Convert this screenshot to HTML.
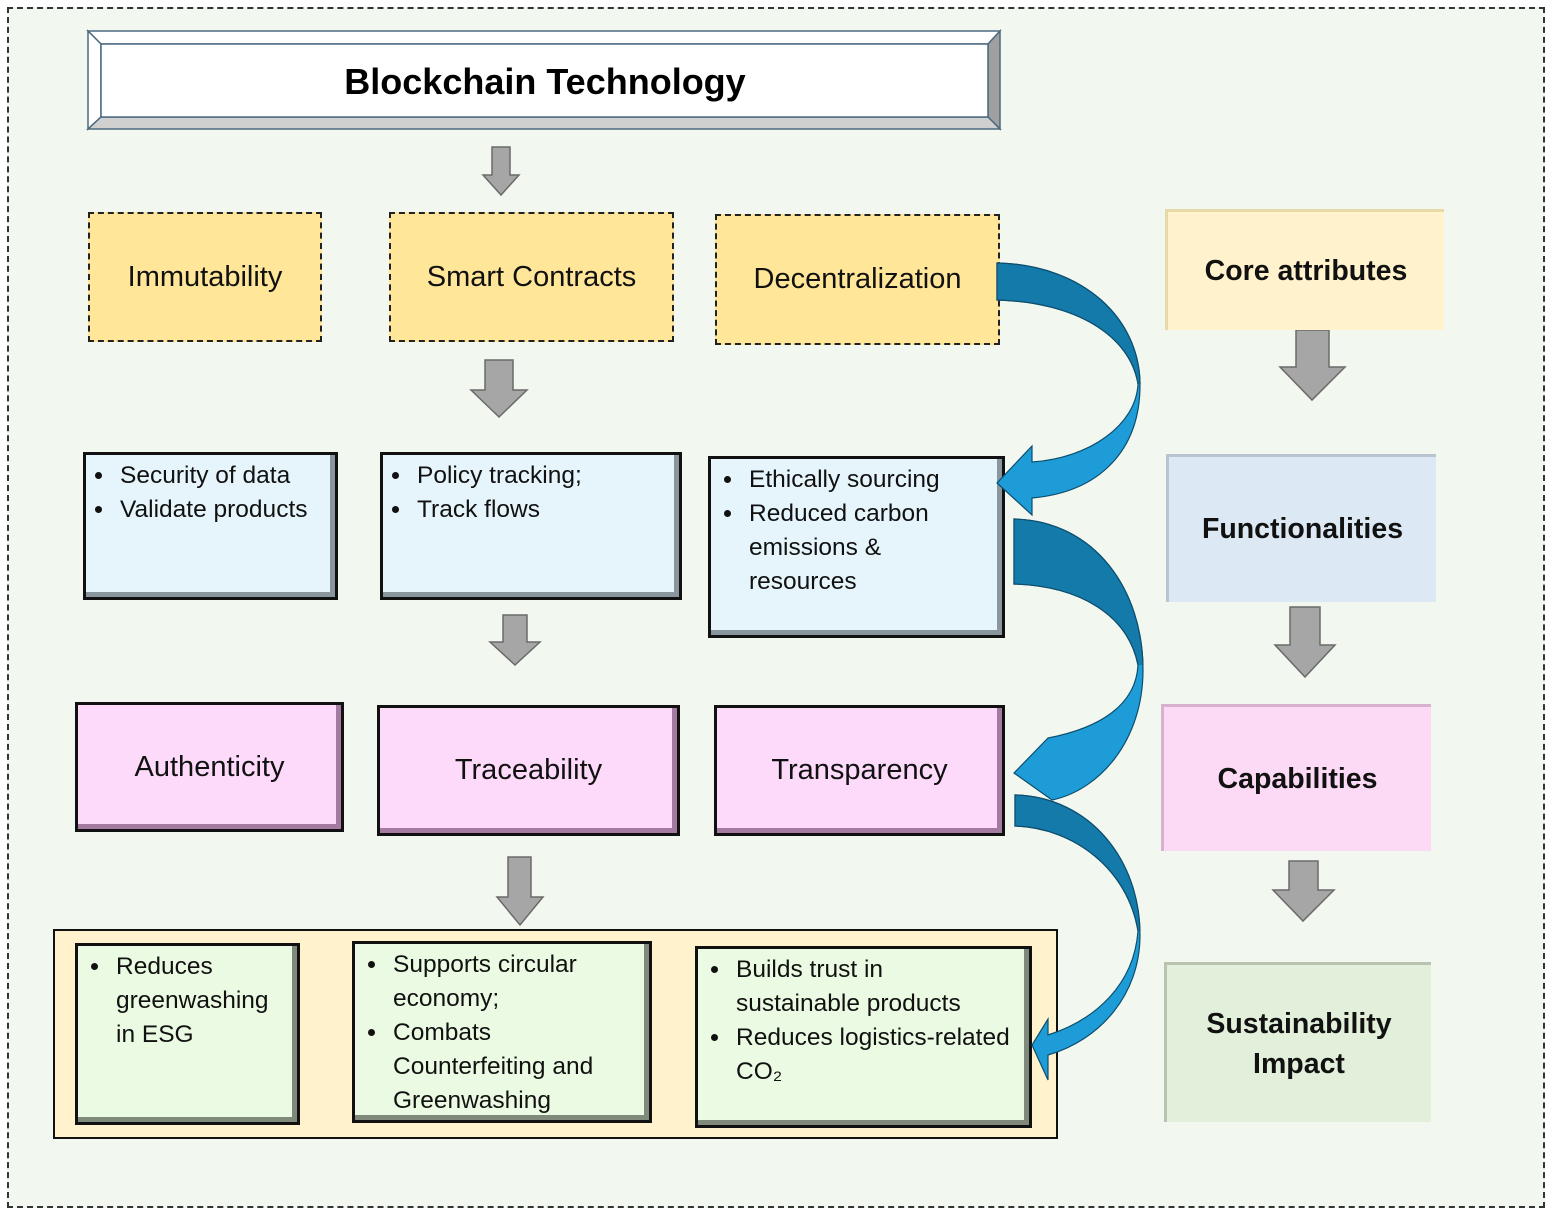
<!DOCTYPE html>
<html><head><meta charset="utf-8"><style>
body{margin:0;width:1555px;height:1218px;background:#fff;position:relative;overflow:hidden;font-family:"Liberation Sans",Carlito,sans-serif;color:#111}
.frame{position:absolute;left:7px;top:7px;width:1538px;height:1201px;border:2px dashed #333;background:#f2f8f0;box-sizing:border-box}
.b{position:absolute;box-sizing:border-box;display:flex;align-items:center;justify-content:center;text-align:center}
.y{background:#ffe699;border:2px dashed #222;font-size:29px}
.bl{background:#e6f5fc;border:3px solid #111;box-shadow:inset -5px -5px 0 #8a969e;align-items:flex-start;justify-content:flex-start}
.pk{background:#fdd9fa;border:3px solid #111;box-shadow:inset -5px -5px 0 #a57aa0;font-size:29px}
.gr{background:#ebfae2;border:3px solid #111;box-shadow:inset -5px -5px 0 #808a7c;align-items:flex-start;justify-content:flex-start}
ul{margin:0;padding:0 0 0 34px;font-size:24.5px;line-height:34px;text-align:left;white-space:nowrap}
li{padding-left:4px}
.r{font-weight:bold;font-size:28.5px}
</style></head><body>
<div class="frame"></div>
<svg style="position:absolute;left:0;top:0" width="1555" height="1218">
<polygon points="88,31 1000,31 988,44 101,44" fill="#fff" stroke="#4a6a80" stroke-width="1.5"/>
<polygon points="88,31 101,44 101,117 88,129" fill="#fff" stroke="#4a6a80" stroke-width="1.5"/>
<polygon points="1000,31 1000,129 988,117 988,44" fill="#a0a0a0" stroke="#4a6a80" stroke-width="1.5"/>
<polygon points="88,129 101,117 988,117 1000,129" fill="#d0d0d0" stroke="#4a6a80" stroke-width="1.5"/>
<rect x="101" y="44" width="887" height="73" fill="#fff" stroke="#4a6a80" stroke-width="1.5"/>
<text x="545" y="94" text-anchor="middle" font-family="Liberation Sans, sans-serif" font-weight="bold" font-size="36">Blockchain Technology</text>
<g fill="#a6a6a6" stroke="#6a6a6a" stroke-width="1.5">
<polygon points="492,147 510,147 510,175 519,175 501,195 483,175 492,175"/>
<polygon points="485,360 513,360 513,390 527,390 499,417 471,390 485,390"/>
<polygon points="503,615 527,615 527,642 540,642 515,665 490,642 503,642"/>
<polygon points="508,857 531,857 531,897 543,897 520,925 497,897 508,897"/>
<polygon points="1296,330 1329,330 1329,367 1345,367 1312,400 1280,367 1296,367"/>
<polygon points="1290,607 1320,607 1320,645 1335,645 1305,677 1275,645 1290,645"/>
<polygon points="1289,861 1318,861 1318,890 1334,890 1303,921 1273,890 1289,890"/>
</g>
</svg>
<div class="b y" style="left:88px;top:212px;width:234px;height:130px">Immutability</div>
<div class="b y" style="left:389px;top:212px;width:285px;height:130px">Smart Contracts</div>
<div class="b y" style="left:715px;top:214px;width:285px;height:131px">Decentralization</div>

<div class="b bl" style="left:83px;top:452px;width:255px;height:148px;padding-top:4px"><ul style="padding-left:30px"><li>Security of data</li><li>Validate products</li></ul></div>
<div class="b bl" style="left:380px;top:452px;width:302px;height:148px;padding-top:4px"><ul style="padding-left:30px"><li>Policy tracking;</li><li>Track flows</li></ul></div>
<div class="b bl" style="left:708px;top:456px;width:297px;height:182px;padding-top:4px"><ul><li>Ethically sourcing</li><li>Reduced carbon<br>emissions &amp;<br>resources</li></ul></div>

<div class="b pk" style="left:75px;top:702px;width:269px;height:130px">Authenticity</div>
<div class="b pk" style="left:377px;top:705px;width:303px;height:131px">Traceability</div>
<div class="b pk" style="left:714px;top:705px;width:291px;height:131px">Transparency</div>

<div class="b" style="left:53px;top:929px;width:1005px;height:210px;background:#fff2cc;border:2px solid #111"></div>
<div class="b gr" style="left:75px;top:943px;width:225px;height:182px;padding-top:4px"><ul><li>Reduces<br>greenwashing<br>in ESG</li></ul></div>
<div class="b gr" style="left:352px;top:941px;width:300px;height:182px;padding-top:4px"><ul><li>Supports circular<br>economy;</li><li>Combats<br>Counterfeiting and<br>Greenwashing</li></ul></div>
<div class="b gr" style="left:695px;top:946px;width:337px;height:182px;padding-top:4px"><ul><li>Builds trust in<br>sustainable products</li><li>Reduces logistics-related<br>CO₂</li></ul></div>

<div class="b r" style="left:1165px;top:209px;width:279px;height:121px;background:#fff2cc;border-left:3px solid #e8d9a8;border-top:3px solid #e8d9a8">Core attributes</div>
<div class="b r" style="left:1166px;top:454px;width:270px;height:148px;background:#dce9f5;border-left:3px solid #b8c4d0;border-top:3px solid #b8c4d0">Functionalities</div>
<div class="b r" style="left:1161px;top:704px;width:270px;height:147px;background:#fcd9f5;border-left:3px solid #d8b0d0;border-top:3px solid #d8b0d0">Capabilities</div>
<div class="b r" style="left:1164px;top:962px;width:267px;height:160px;background:#e2efda;border-left:3px solid #b8c4b0;border-top:3px solid #b8c4b0;line-height:40px">Sustainability<br>Impact</div>

<svg style="position:absolute;left:0;top:0" width="1555" height="1218">
<defs>
<clipPath id="c1"><rect x="0" y="0" width="1555" height="384"/></clipPath>
<clipPath id="c2"><rect x="0" y="0" width="1555" height="665"/></clipPath>
<clipPath id="c3"><rect x="0" y="0" width="1555" height="931"/></clipPath>
</defs>
<g stroke="#0d4d6e" stroke-width="1.2">
<path d="M997,263 C1085,265 1140,320 1140,385 C1140,450 1100,492 1032,498 L1032,515 L997,483 L1032,446 L1032,462 C1090,458 1136,425 1138,384 C1130,335 1075,302 997,300 Z" fill="#1e9cd8"/>
<path d="M997,263 C1085,265 1140,320 1140,385 C1140,450 1100,492 1032,498 L1032,515 L997,483 L1032,446 L1032,462 C1090,458 1136,425 1138,384 C1130,335 1075,302 997,300 Z" fill="#137aaa" clip-path="url(#c1)"/>
<path d="M1014,519 C1095,521 1143,590 1143,670 C1143,740 1100,790 1052,800 L1014,773 L1048,738 C1100,728 1136,705 1138,665 C1128,615 1080,586 1014,584 Z" fill="#1e9cd8"/>
<path d="M1014,519 C1095,521 1143,590 1143,670 C1143,740 1100,790 1052,800 L1014,773 L1048,738 C1100,728 1136,705 1138,665 C1128,615 1080,586 1014,584 Z" fill="#137aaa" clip-path="url(#c2)"/>
<path d="M1015,795 C1090,797 1140,860 1140,935 C1140,995 1100,1040 1048,1055 L1048,1080 L1032,1045 L1048,1019 L1048,1035 C1095,1020 1134,985 1138,931 C1128,870 1075,828 1015,826 Z" fill="#1e9cd8"/>
<path d="M1015,795 C1090,797 1140,860 1140,935 C1140,995 1100,1040 1048,1055 L1048,1080 L1032,1045 L1048,1019 L1048,1035 C1095,1020 1134,985 1138,931 C1128,870 1075,828 1015,826 Z" fill="#137aaa" clip-path="url(#c3)"/>
</g>
</svg>
</body></html>
